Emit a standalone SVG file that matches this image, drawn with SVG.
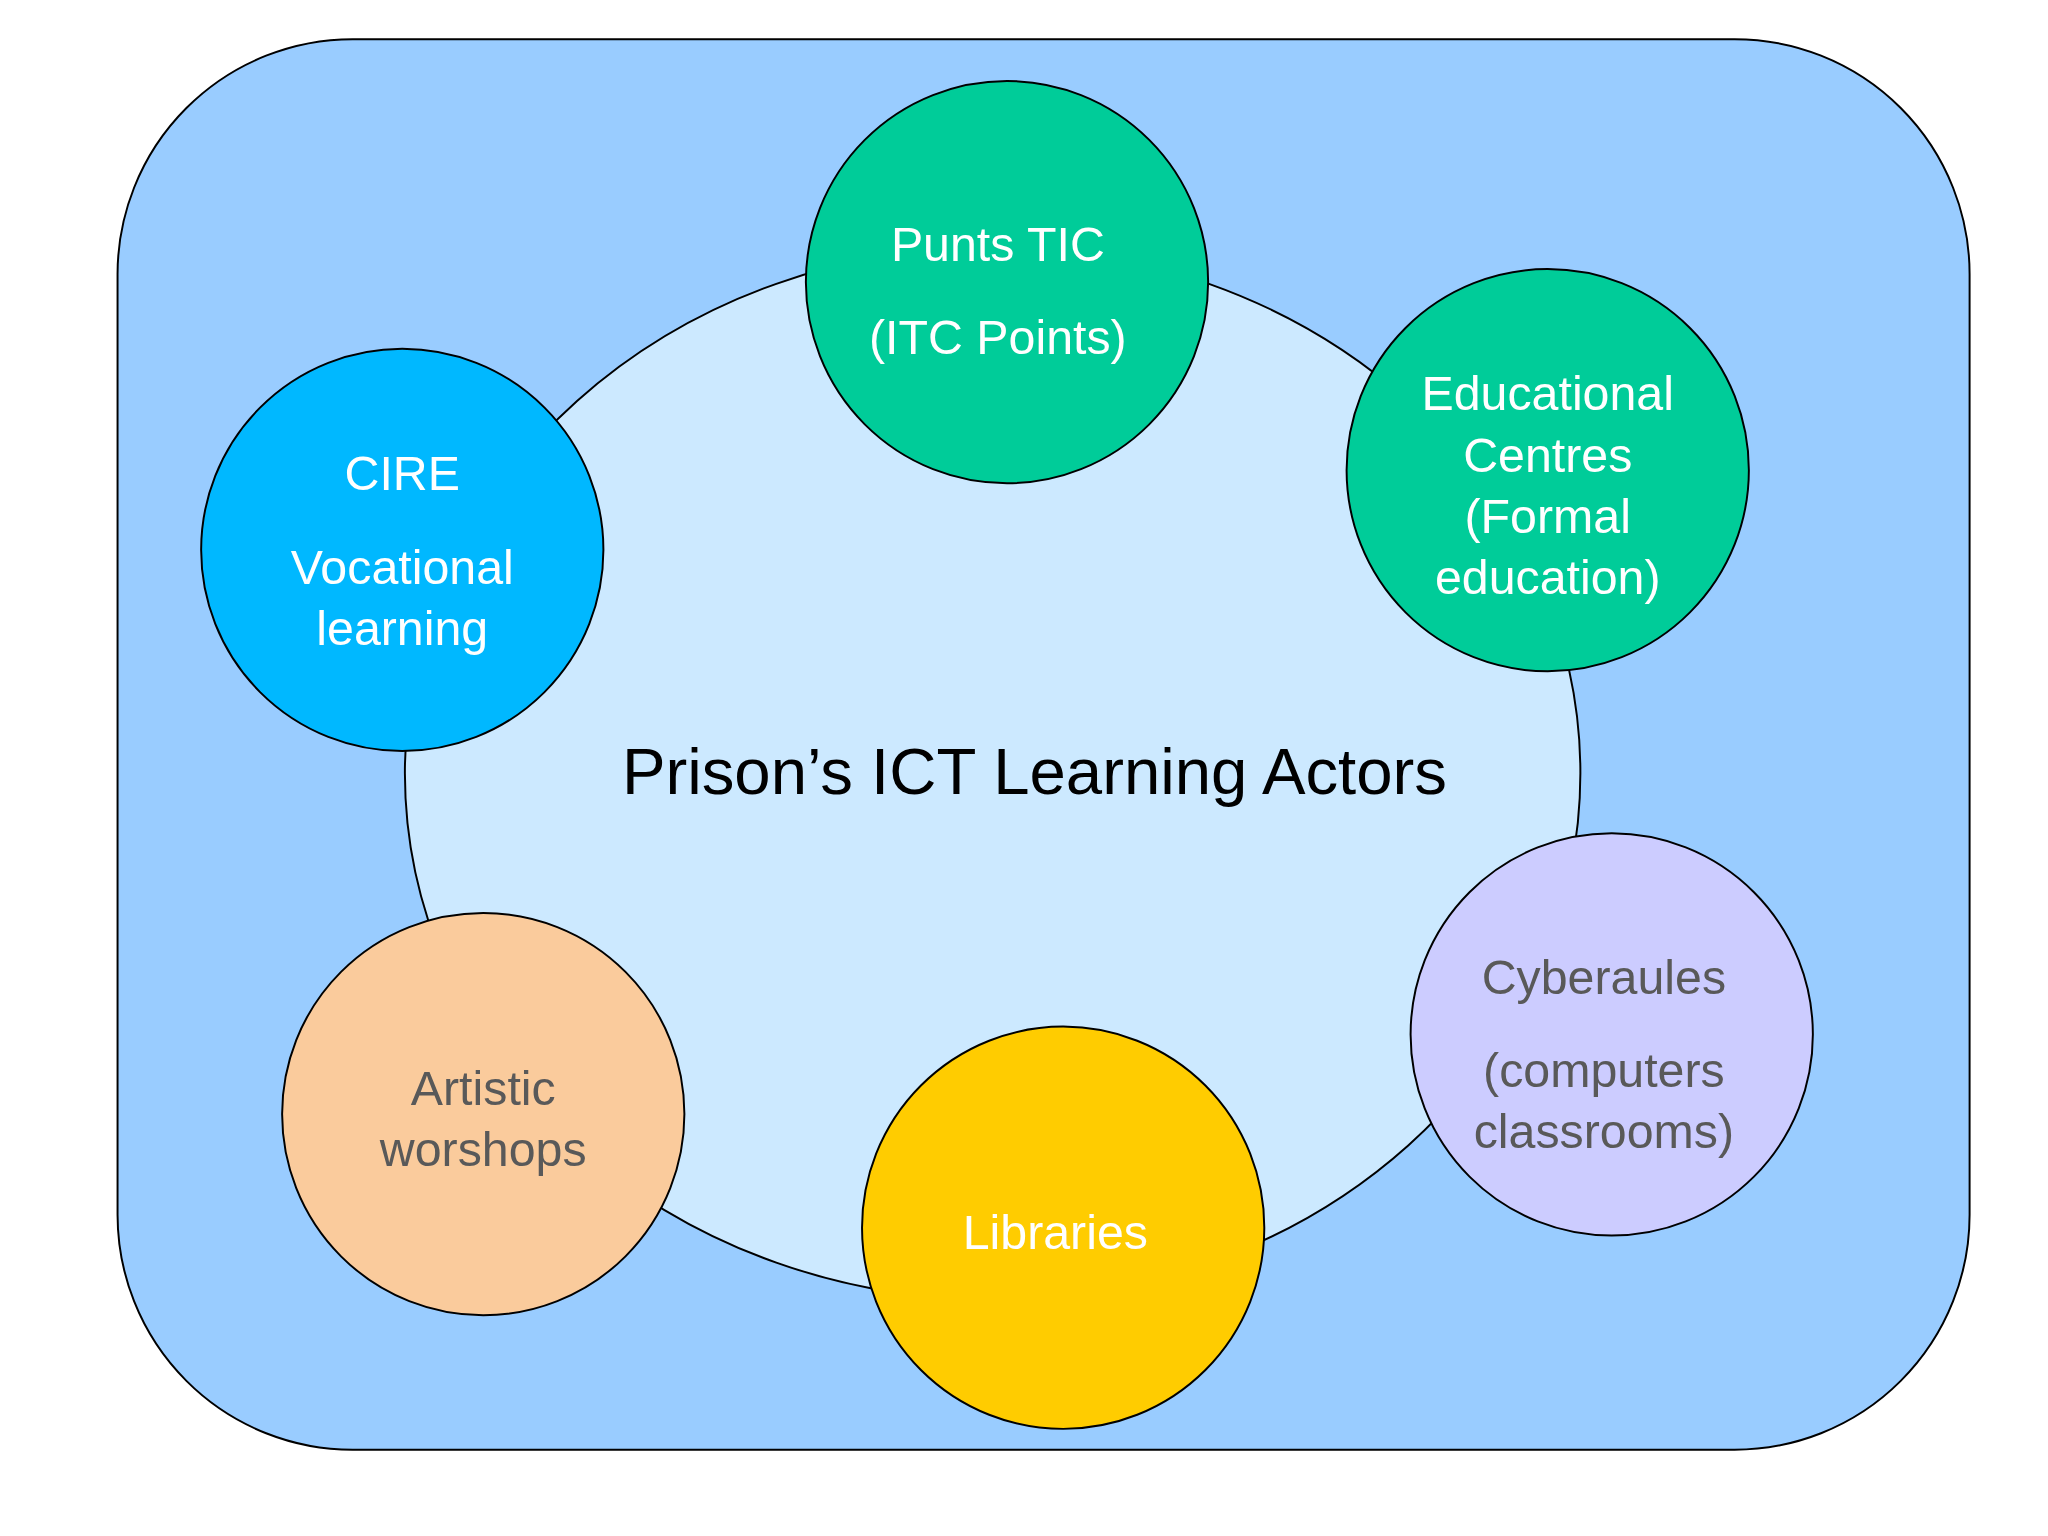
<svg xmlns="http://www.w3.org/2000/svg" width="2048" height="1536" viewBox="0 0 2048 1536">
<style>
.n{stroke:#000;stroke-width:1.5}
.t{font-family:"Liberation Sans",Arial,sans-serif;font-size:37px;text-anchor:middle}
.w{fill:#fff}.g{fill:#595959}
</style>
<rect width="2048" height="1536" fill="#fff"/>
<g transform="scale(1.3061)">
<g id="background">
<rect x="90" y="30" width="1418" height="1080" rx="180" fill="#99CCFF" stroke="#000" stroke-width="1.5"/>
</g>
<g id="connectors">
<ellipse cx="760" cy="592" rx="450" ry="403" fill="#CCE9FF" stroke="#000" stroke-width="1.5"/>
</g>
<g id="title"><text x="792" y="608" font-family="Liberation Sans,Arial,sans-serif" font-size="50" text-anchor="middle" fill="#000">Prison’s ICT Learning Actors</text></g>
<g id="punts"><circle class="n" cx="771" cy="216" r="154" fill="#00CC99"/>
<text class="t w" x="764" y="200">Punts TIC</text><text class="t w" x="764" y="271">(ITC Points)</text></g>
<g id="educational"><circle class="n" cx="1185" cy="360" r="154" fill="#00CC99"/>
<text class="t w" x="1185" y="314">Educational</text><text class="t w" x="1185" y="361">Centres</text><text class="t w" x="1185" y="408">(Formal</text><text class="t w" x="1185" y="455">education)</text></g>
<g id="cire"><circle class="n" cx="308" cy="421" r="154" fill="#00B8FF"/>
<text class="t w" x="308" y="375">CIRE</text><text class="t w" x="308" y="447">Vocational</text><text class="t w" x="308" y="494">learning</text></g>
<g id="cyberaules"><circle class="n" cx="1234" cy="792" r="154" fill="#CCCCFF"/>
<text class="t g" x="1228" y="761">Cyberaules</text><text class="t g" x="1228" y="832">(computers</text><text class="t g" x="1228" y="879">classrooms)</text></g>
<g id="libraries"><circle class="n" cx="814" cy="940" r="154" fill="#FFCC00"/>
<text class="t w" x="808" y="956">Libraries</text></g>
<g id="artistic"><circle class="n" cx="370" cy="853" r="154" fill="#FACB9C"/>
<text class="t g" x="370" y="846">Artistic</text><text class="t g" x="370" y="893">worshops</text></g>
</g>
</svg>
